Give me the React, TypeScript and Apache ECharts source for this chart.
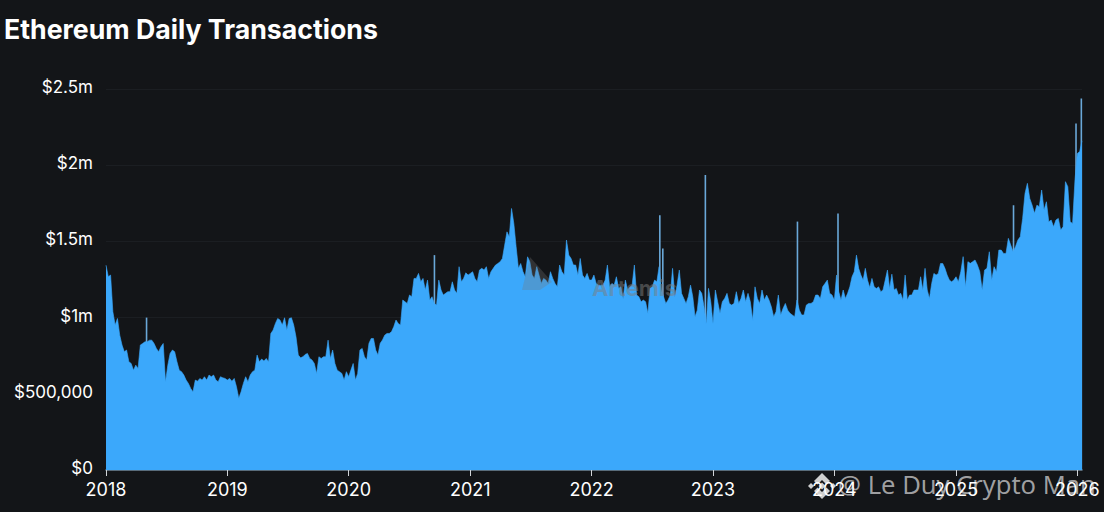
import React, { useEffect, useRef } from "react";
import * as echarts from "echarts";

const chartTitle = "Ethereum Daily Transactions";
const yearLabels = ["2018", "2019", "2020", "2021", "2022", "2023", "2024", "2025", "2026"];
const yTickLabels = ["$0", "$500,000", "$1m", "$1.5m", "$2m", "$2.5m"];

// Upper envelope, in thousands of dollars, roughly weekly.
const y2018 = [1344,1268,1279,1038,951,994,885,820,776,787,710,699,655,688,666,820,830,841,841,852,852,830,798,776,809,830,579,688,765,787,776,710,655,645,623,590,568,535,513,590,583,601,590,612,590,623,612,623,590,579,612,605,601];
const y2019 = [590,601,583,601,546,470,513,568,612,579,623,645,655,754,710,728,715,732,710,896,918,962,994,984,951,999,918,994,999,951,874,754,736,743,758,765,732,721,699,634,743,732,743,743,852,732,787,699,655,645,634,590,645];
const y2020 = [612,656,699,590,634,787,798,743,721,831,863,863,787,754,831,853,885,896,896,907,940,984,962,951,1115,1104,1093,1148,1137,1257,1257,1290,1235,1257,1181,1246,1115,1137,1093,1082,1246,1181,1148,1159,1170,1170,1235,1181,1159,1334,1235,1257,1294,1279];
const y2021 = [1290,1301,1257,1235,1312,1323,1312,1334,1257,1301,1323,1345,1355,1366,1388,1476,1563,1530,1716,1618,1465,1323,1355,1301,1268,1399,1366,1279,1257,1334,1279,1224,1257,1246,1224,1301,1257,1224,1202,1345,1301,1279,1509,1410,1388,1345,1345,1279,1388,1279,1257,1290,1246];
const y2022 = [1246,1279,1224,1213,1213,1213,1246,1345,1202,1224,1213,1268,1192,1202,1126,1246,1181,1202,1213,1345,1148,1137,1104,1115,1104,1028,1192,1202,1246,1235,1334,1181,1137,1093,1115,1148,1323,1137,1213,1312,1159,1126,1093,1137,1213,1137,1006,1049,1181,1159,1071,962,1192,1104];
const y2023 = [962,1181,1104,1028,1104,1126,1159,1093,1082,1093,1170,1093,1126,1181,1104,1159,1104,984,1202,1126,1093,1181,1115,1148,1115,1071,1006,1038,1148,1017,1060,1093,1049,1028,1017,1006,1115,1049,1017,1017,1082,1093,1093,1104,1148,1148,1126,1202,1224,1246,1159,1148];
const y2024 = [1115,1279,1170,1115,1181,1126,1159,1202,1268,1301,1410,1323,1279,1246,1323,1246,1198,1257,1202,1191,1202,1170,1181,1246,1312,1191,1285,1181,1191,1148,1159,1115,1279,1115,1148,1148,1181,1181,1181,1268,1181,1323,1181,1126,1224,1290,1279,1290,1355,1355,1323,1279,1246,1235,1246];
const y2025 = [1268,1235,1301,1400,1203,1367,1356,1367,1378,1345,1301,1181,1312,1323,1432,1246,1334,1301,1443,1443,1421,1421,1520,1476,1432,1465,1509,1531,1651,1815,1881,1782,1738,1684,1738,1728,1837,1706,1760,1629,1640,1596,1640,1651,1574,1596,1892,1859,1629,1618,1903];
const y2026 = [2077, 2090, 2160];
const yearSeries = [y2018, y2019, y2020, y2021, y2022, y2023, y2024, y2025];

// One-day spikes that stand far above the rest.
const spikeDates = ["2018-05-03","2020-09-15","2022-07-25","2022-08-03","2022-12-09","2023-09-12","2024-01-12","2025-06-23","2025-12-28","2026-01-13"];
const spikeValues = [1000,1410,1672,1454,1936,1630,1683,1738,2274,2438];

const xMin = Date.UTC(2018, 0, 1);
const xMax = Date.UTC(2026, 0, 15);

const baseData: [number, number][] = [];
yearSeries.forEach((vals, yi) => {
  const start = Date.UTC(2018 + yi, 0, 1);
  const end = Date.UTC(2019 + yi, 0, 1);
  vals.forEach((v, i) => {
    baseData.push([start + ((end - start) * i) / vals.length, v * 1000]);
  });
});
y2026.forEach((v, i) => {
  baseData.push([Date.UTC(2026, 0, 1 + i * 7), v * 1000]);
});
const spikeData = spikeDates.map((d, i) => [Date.parse(d), spikeValues[i] * 1000]);
const yearTicks = yearLabels.map((y) => Date.UTC(Number(y), 0, 1));

const FONT = "Inter";
const LOGO = "rgba(255,255,255,0.8)";

export default function App() {
  const ref = useRef<HTMLDivElement>(null);
  useEffect(() => {
    const chart = echarts.init(ref.current!, null, { renderer: "svg" });
    const sharedX = { type: "value", min: xMin, max: xMax, scale: true };
    chart.setOption({
      animation: false,
      backgroundColor: "#131518",
      title: {
        text: chartTitle,
        left: 4,
        top: 15,
        padding: 0,
        textStyle: { color: "#ffffff", fontFamily: FONT, fontSize: 26.7, fontWeight: 700 },
      },
      grid: { left: 106, right: 22, top: 89, bottom: 42 },
      xAxis: [
        {
          ...sharedX,
          axisLine: { show: true, onZero: false, lineStyle: { color: "#6f8799", width: 1.5 } },
          axisTick: { show: true, length: 6, customValues: yearTicks, lineStyle: { color: "#d0d4d8" } },
          splitLine: { show: false },
          axisLabel: {
            customValues: yearTicks,
            color: "#ffffff",
            fontFamily: FONT,
            fontSize: 18,
            margin: 10,
            hideOverlap: false,
            formatter: (v: number) => String(new Date(v).getUTCFullYear()),
          },
        },
        { ...sharedX, show: false },
      ],
      yAxis: {
        type: "value",
        min: 0,
        max: 2500000,
        interval: 500000,
        axisLine: { show: false },
        axisTick: { show: false },
        splitLine: { show: true, lineStyle: { color: "#1b1e22", width: 1 } },
        axisLabel: {
          color: "#ffffff",
          fontFamily: FONT,
          fontSize: 17,
          margin: 13,
          verticalAlign: "bottom",
          lineHeight: 4,
          formatter: (v: number) => yTickLabels[Math.round(v / 500000)],
        },
      },
      graphic: [
        {
          type: "polygon",
          z: 100,
          shape: { points: [[522, 290], [530, 257], [552, 282], [540, 290]] },
          style: { fill: "rgba(120,120,120,0.3)" },
        },
        {
          type: "text",
          z: 100,
          left: 592,
          top: 277,
          style: { text: "Artemis", fill: "rgba(125,125,125,0.5)", font: "700 22px Inter" },
        },
        {
          type: "group",
          z: 101,
          children: [
            { type: "polygon", shape: { points: [[822, 473], [830, 481], [826.5, 484.5], [822, 480], [817.5, 484.5], [814, 481]] }, style: { fill: LOGO } },
            { type: "polygon", shape: { points: [[822, 499], [830, 491], [826.5, 487.5], [822, 492], [817.5, 487.5], [814, 491]] }, style: { fill: LOGO } },
            { type: "polygon", shape: { points: [[822, 482.5], [825.5, 486], [822, 489.5], [818.5, 486]] }, style: { fill: LOGO } },
            { type: "polygon", shape: { points: [[811, 483], [814, 486], [811, 489], [808, 486]] }, style: { fill: LOGO } },
            { type: "polygon", shape: { points: [[833, 483], [836, 486], [833, 489], [830, 486]] }, style: { fill: LOGO } },
          ],
        },
        {
          type: "text",
          z: 101,
          left: 838,
          top: 471,
          style: {
            text: "@ Le Duy Crypto Man",
            fill: "rgba(255,255,255,0.62)",
            font: "400 25.7px 'Open Sans'",
          },
        },
      ],
      series: [
        {
          type: "bar",
          name: "Spikes",
          xAxisIndex: 1,
          data: spikeData,
          barWidth: 1.6,
          z: 2,
          itemStyle: { color: "#6aa8d8" },
        },
        {
          type: "line",
          name: "Daily Transactions",
          xAxisIndex: 0,
          data: baseData,
          symbol: "none",
          showSymbol: false,
          z: 3,
          lineStyle: { color: "#3ba8fb", width: 0.6 },
          areaStyle: { color: "#3ba8fb", opacity: 1 },
        },
      ],
    });
    return () => chart.dispose();
  }, []);
  return (
    <div
      ref={ref}
      style={{ position: "fixed", left: 0, top: 0, width: 1104, height: 512 }}
    />
  );
}
